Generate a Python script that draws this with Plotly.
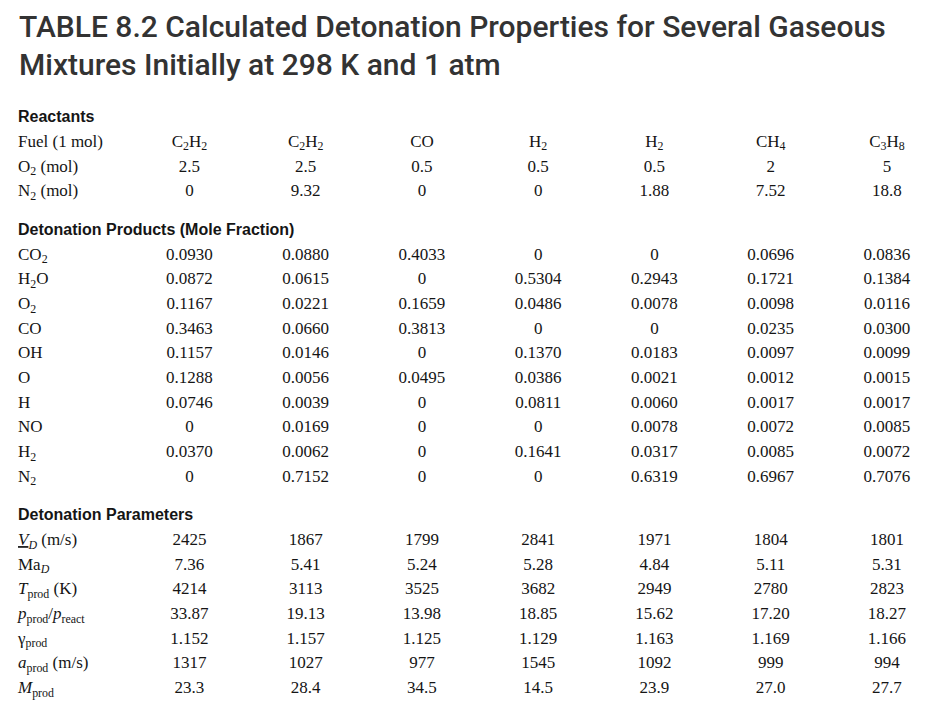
import plotly.graph_objects as go

# ---------------- data ----------------
title_lines = [
    "TABLE 8.2 Calculated Detonation Properties for Several Gaseous",
    "Mixtures Initially at 298 K and 1 atm",
]

section_titles = ["Reactants", "Detonation Products (Mole Fraction)", "Detonation Parameters"]

fuels = ["C<sub>2</sub>H<sub>2</sub>", "C<sub>2</sub>H<sub>2</sub>", "CO", "H<sub>2</sub>",
         "H<sub>2</sub>", "CH<sub>4</sub>", "C<sub>3</sub>H<sub>8</sub>"]
o2_mol = ["2.5", "2.5", "0.5", "0.5", "0.5", "2", "5"]
n2_mol = ["0", "9.32", "0", "0", "1.88", "7.52", "18.8"]
reactant_labels = ["Fuel (1 mol)", "O<sub>2</sub> (mol)", "N<sub>2</sub> (mol)"]

product_labels = ["CO<sub>2</sub>", "H<sub>2</sub>O", "O<sub>2</sub>", "CO", "OH", "O", "H", "NO",
                  "H<sub>2</sub>", "N<sub>2</sub>"]
co2 = [0.0930, 0.0880, 0.4033, 0, 0, 0.0696, 0.0836]
h2o = [0.0872, 0.0615, 0, 0.5304, 0.2943, 0.1721, 0.1384]
o2 = [0.1167, 0.0221, 0.1659, 0.0486, 0.0078, 0.0098, 0.0116]
co = [0.3463, 0.0660, 0.3813, 0, 0, 0.0235, 0.0300]
oh = [0.1157, 0.0146, 0, 0.1370, 0.0183, 0.0097, 0.0099]
o = [0.1288, 0.0056, 0.0495, 0.0386, 0.0021, 0.0012, 0.0015]
h = [0.0746, 0.0039, 0, 0.0811, 0.0060, 0.0017, 0.0017]
no = [0, 0.0169, 0, 0, 0.0078, 0.0072, 0.0085]
h2 = [0.0370, 0.0062, 0, 0.1641, 0.0317, 0.0085, 0.0072]
n2 = [0, 0.7152, 0, 0, 0.6319, 0.6967, 0.7076]

param_labels = ["<u><i>V</i></u><sub><i>D</i></sub> (m/s)", "Ma<sub><i>D</i></sub>",
                "<i>T</i><sub>prod</sub> (K)", "<i>p</i><sub>prod</sub>/<i>p</i><sub>react</sub>",
                "γ<sub>prod</sub>", "<i>a</i><sub>prod</sub> (m/s)", "<i>M</i><sub>prod</sub>"]
v_d = [2425, 1867, 1799, 2841, 1971, 1804, 1801]
ma_d = [7.36, 5.41, 5.24, 5.28, 4.84, 5.11, 5.31]
t_prod = [4214, 3113, 3525, 3682, 2949, 2780, 2823]
p_ratio = [33.87, 19.13, 13.98, 18.85, 15.62, 17.20, 18.27]
gamma_prod = [1.152, 1.157, 1.125, 1.129, 1.163, 1.169, 1.166]
a_prod = [1317, 1027, 977, 1545, 1092, 999, 994]
m_prod = [23.3, 28.4, 34.5, 14.5, 23.9, 27.0, 27.7]
param_decimals = [0, 2, 0, 2, 3, 0, 1]

# ---------------- build rows ----------------
def fmt_frac(v):
    return "0" if v == 0 else f"{v:.4f}"

sections = [
    (reactant_labels, [fuels, o2_mol, n2_mol]),
    (product_labels, [[fmt_frac(v) for v in row] for row in
                      [co2, h2o, o2, co, oh, o, h, no, h2, n2]]),
    (param_labels, [[f"{v:.{d}f}" for v in row] for row, d in
                    zip([v_d, ma_d, t_prod, p_ratio, gamma_prod, a_prod, m_prod], param_decimals)]),
]

SECTION_GAP = 1.57   # extra spacing (in row units) between sections
LABEL_X = -0.475

head_x, head_y, head_t = [], [], []
lab_x, lab_y, lab_t = [], [], []
cell_x, cell_y, cell_t = [], [], []

r = 0.0
for si, (labels, rows) in enumerate(sections):
    if si > 0:
        r += SECTION_GAP
    head_x.append(LABEL_X); head_y.append(r); head_t.append(section_titles[si])
    for lab, vals in zip(labels, rows):
        r += 1
        lab_x.append(LABEL_X); lab_y.append(r); lab_t.append(lab)
        for ci, v in enumerate(vals):
            cell_x.append(ci + 1); cell_y.append(r); cell_t.append(v)

serif = dict(family="Liberation Serif", size=17, color="#151515")

fig = go.Figure()
fig.add_trace(go.Scatter(x=head_x, y=head_y, text=head_t, mode="text",
                         textposition="middle right", cliponaxis=False, hoverinfo="skip",
                         textfont=dict(family="Liberation Sans", size=16, color="#151515",
                                       weight="bold")))
fig.add_trace(go.Scatter(x=lab_x, y=lab_y, text=lab_t, mode="text",
                         textposition="middle right", cliponaxis=False, hoverinfo="skip",
                         textfont=serif))
fig.add_trace(go.Scatter(x=cell_x, y=cell_y, text=cell_t, mode="text",
                         textposition="middle center", cliponaxis=False, hoverinfo="skip",
                         textfont=serif))

for i, line in enumerate(title_lines):
    fig.add_annotation(x=9 / 933, y=1 - (18 + 39 * i) / 723, xref="paper", yref="paper",
                       xanchor="left", yanchor="middle", showarrow=False, text=line,
                       font=dict(family="Roboto", size=30, color="#333333", weight=500))

fig.update_layout(
    width=933, height=723,
    margin=dict(l=0, r=0, t=0, b=0),
    paper_bgcolor="white", plot_bgcolor="white",
    showlegend=False,
    xaxis=dict(range=[-0.561, 7.465], visible=False, fixedrange=True),
    yaxis=dict(range=[24.848, -4.459], visible=False, fixedrange=True),
)

fig.write_html("out.html")
